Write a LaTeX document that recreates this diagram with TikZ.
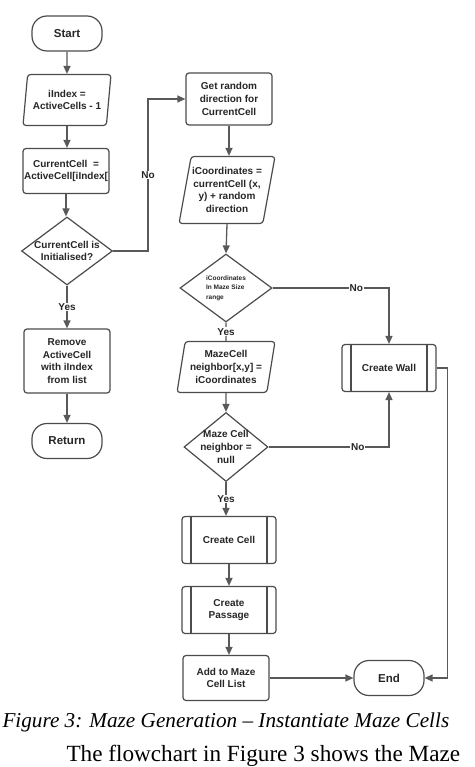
\documentclass[tikz,border=0pt]{standalone}
\usepackage{fontspec}
\setmainfont{Liberation Serif}
\newfontfamily\boxfont{Liberation Sans}
\usetikzlibrary{shapes.geometric,arrows.meta}
\tikzset{
  every node/.style={font=\boxfont\bfseries\fontsize{10}{12.7}\selectfont, text=black!85},
  box/.style={draw=black!70, line width=1.2pt, rounded corners=3pt, align=center, inner sep=0pt},
  proc/.style={box, rectangle, minimum width=86pt, minimum height=45pt},
  term/.style={box, rectangle, rounded corners=15pt, minimum width=70pt, minimum height=35pt,
    font=\boxfont\bfseries\fontsize{11.5}{13}\selectfont},
  io/.style={box, trapezium, trapezium left angle=77, trapezium right angle=103,
    trapezium stretches body, minimum height=51pt, minimum width=88pt},
  pre/.style={box, rectangle, minimum width=94pt, minimum height=47pt,
    path picture={\draw[black!70, line width=1.2pt]
      ([xshift=9pt]path picture bounding box.north west) -- ([xshift=9pt]path picture bounding box.south west)
      ([xshift=-9pt]path picture bounding box.north east) -- ([xshift=-9pt]path picture bounding box.south east);}},
  dec/.style={draw=black!70, line width=1.2pt, diamond, inner sep=0pt, minimum width=91pt, minimum height=68pt},
  lbl/.style={fill=white, inner sep=1pt},
  arr/.style={draw=black!65, line width=1.3pt, -{Triangle[length=8pt,width=7pt]}},
  ln/.style={draw=black!65, line width=1.3pt},
  captext/.style={anchor=base west, font=\rmfamily\fontsize{21.2}{24}\selectfont, text=black}
}
\begin{document}
\begin{tikzpicture}[x=1pt,y=-1pt]
    \useasboundingbox[fill=white] (0,0) rectangle (474,767);
    %left column
    \node[term] (start) at (67,33.5) {Start};
    \node[io] (iindex) at (67,100) {iIndex =\\ActiveCells - 1};
    \node[proc] (cur) at (66,171) {CurrentCell \ =\\ActiveCell[iIndex[};
    \node[dec, label={[align=center]center:CurrentCell is\\Initialised?}] (init) at (67,251) {};
    \node[proc, minimum height=64pt] (remove) at (67,361) {Remove\\ActiveCell\\with iIndex\\from list};
    \node[term] (return) at (67,441) {Return};
    %right column
    \node[proc, minimum height=52pt] (rand) at (229,99) {Get random\\direction for\\CurrentCell};
    \node[io, minimum height=67pt, minimum width=96pt, trapezium left angle=75, trapezium right angle=105]
        (coord) at (227,190) {iCoordinates =\\currentCell (x,\\y) + random\\direction};
    \node[dec, minimum width=92pt, label={[align=left,font=\boxfont\bfseries\fontsize{6.5}{9.5}\selectfont]center:iCoordinates\\In Maze Size\\range}]
        (range) at (226,288) {};
    \node[io, minimum width=98pt, trapezium left angle=76, trapezium right angle=104]
        (maze) at (226,367) {MazeCell\\neighbor[x,y] =\\iCoordinates};
    \node[dec, minimum width=84pt, minimum height=69pt, label={[align=center]center:Maze Cell\\neighbor =\\null}]
        (null) at (226,447) {};
    \node[pre] (cell) at (229,540) {Create Cell};
    \node[pre] (pass) at (229,610) {Create\\Passage};
    \node[proc] (add) at (226,678) {Add to Maze\\Cell List};
    \node[pre] (wall) at (389,368) {Create Wall};
    \node[term] (end) at (389,678) {End};
    %connectors
    \draw[arr] (start) -- (iindex);
    \draw[arr] (iindex.south) -- (iindex.south |- cur.north);
    \draw[arr] (cur.south) -- (cur.south |- init.north);
    \draw[arr] (init.south) -- node[lbl]{Yes} (remove.north);
    \draw[arr] (remove) -- (return);
    \draw[arr] (init.east) -- ++(35,0) |- node[pos=0.25,lbl]{No} (rand.west);
    \draw[arr] (rand.south) -- (rand.south |- coord.north);
    \draw[arr] (coord.south) -- (range.north);
    \draw[ln] (range.south) -- node[lbl]{Yes} (maze.north);
    \draw[arr] (range.east) -| node[pos=0.36,lbl]{No} (wall.north);
    \draw[arr] (maze.south) -- (null.north);
    \draw[arr] (null.east) -| node[pos=0.37,lbl]{No} (wall.south);
    \draw[arr] (null.south) -- node[lbl]{Yes} (null.south |- cell.north);
    \draw[arr] (cell) -- (pass);
    \draw[arr] (pass.south) -- (pass.south |- add.north);
    \draw[arr] (add) -- (end);
    \draw[arr] (wall.east) -- ++(11,0) |- (end.east);
    %caption
    \node[captext] (capa) at (-1,727) {\itshape Figure 3: Maze Generation – Instantiate Maze Cells};
    \node[captext, font=\rmfamily\fontsize{23.2}{26}\selectfont] (capb) at (63,761) {The flowchart in Figure 3 shows the Maze};
\end{tikzpicture}
\end{document}
